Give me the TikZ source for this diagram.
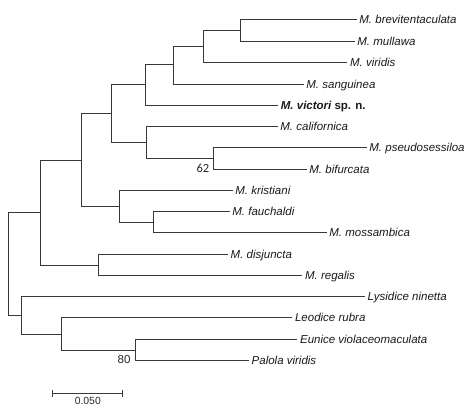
\documentclass[tikz,border=0pt]{standalone}
\usepackage{fontspec}
\setmainfont{Liberation Sans}
\newfontfamily\calfont{Carlito}
\begin{document}
\begin{tikzpicture}[x=1pt,y=-1pt,
  br/.style={draw=black!78, line width=1pt, line cap=rect},
  leaf/.style={anchor=west, inner xsep=3.2pt, inner ysep=0pt, text height=8.2pt, text depth=0pt,
    font=\fontsize{11.5}{13}\selectfont\itshape, text=black!90},
  boot/.style={anchor=east, inner sep=0pt, font=\fontsize{11.6}{13}\selectfont, text=black!85},
  scalelbl/.style={inner sep=0pt, font=\fontsize{10.4}{12}\selectfont, text=black!85}
]
\useasboundingbox (0,0) rectangle (474,412);
% internal nodes (x of vertical, y of attachment)
\coordinate (R) at (8.3,264);
\coordinate (K) at (40.7,212.7);
\coordinate (H) at (81.7,160);
\coordinate (E) at (111,113.3);
\coordinate (D) at (145,85);
\coordinate (C) at (173.3,65);
\coordinate (B) at (203.3,46.7);
\coordinate (A) at (240,31);
\coordinate (F) at (146.7,142.3);
\coordinate (G) at (213.3,158.3);
\coordinate (I) at (119.3,206);
\coordinate (J) at (153.3,222.3);
\coordinate (L) at (98.3,265);
\coordinate (M) at (21,315.7);
\coordinate (N) at (61,334.3);
\coordinate (O) at (135.7,350.3);
% leaves
\node[leaf] (brev) at (356,19.5) {M. brevitentaculata};
\node[leaf] (mull) at (354,41.7) {M. mullawa};
\node[leaf] (viri) at (346.7,62.3) {M. viridis};
\node[leaf] (sang) at (303,84.3) {M. sanguinea};
\node[leaf] (vict) at (277.5,105.7) {\bfseries M. victori\upshape\ sp. n.};
\node[leaf] (cali) at (277,126.7) {M. californica};
\node[leaf] (pseu) at (366,147.7) {M. pseudosessiloa};
\node[leaf] (bifu) at (306,169) {M. bifurcata};
\node[leaf] (kris) at (232,190.7) {M. kristiani};
\node[leaf] (fauc) at (229,211.7) {M. fauchaldi};
\node[leaf] (moss) at (326,232.7) {M. mossambica};
\node[leaf] (disj) at (227.3,254) {M. disjuncta};
\node[leaf] (rega) at (301.7,275.7) {M. regalis};
\node[leaf] (lysi) at (364.3,296.7) {Lysidice ninetta};
\node[leaf] (leod) at (291.7,317.7) {Leodice rubra};
\node[leaf] (euni) at (296.7,339.3) {Eunice violaceomaculata};
\node[leaf] (palo) at (248.3,360.7) {Palola viridis};
% branches
\draw[br] (R) |- (K);  \draw[br] (R) |- (M);
\draw[br] (K) |- (H);  \draw[br] (K) |- (L);
\draw[br] (H) |- (E);  \draw[br] (H) |- (I);
\draw[br] (E) |- (D);  \draw[br] (E) |- (F);
\draw[br] (D) |- (C);  \draw[br] (D) |- (vict.west);
\draw[br] (C) |- (B);  \draw[br] (C) |- (sang.west);
\draw[br] (B) |- (A);  \draw[br] (B) |- (viri.west);
\draw[br] (A) |- (brev.west); \draw[br] (A) |- (mull.west);
\draw[br] (F) |- (cali.west); \draw[br] (F) |- (G);
\draw[br] (G) |- (pseu.west); \draw[br] (G) |- (bifu.west);
\draw[br] (I) |- (kris.west); \draw[br] (I) |- (J);
\draw[br] (J) |- (fauc.west); \draw[br] (J) |- (moss.west);
\draw[br] (L) |- (disj.west); \draw[br] (L) |- (rega.west);
\draw[br] (M) |- (lysi.west); \draw[br] (M) |- (N);
\draw[br] (N) |- (leod.west); \draw[br] (N) |- (O);
\draw[br] (O) |- (euni.west); \draw[br] (O) |- (palo.west);
% bootstrap values
\node[boot, font=\calfont\fontsize{12.5}{14}\selectfont] (b62) at (209.5,168) {62};
\node[boot] (b80) at (130.7,360) {80};
% scale bar
\coordinate (s1) at (52.7,393.3);
\coordinate (s2) at (122,393.3);
\draw[br, line cap=butt] (s1) -- (s2);
\draw[br, line cap=butt] ([yshift=-3.5pt]s1) -- ([yshift=3.5pt]s1);
\draw[br, line cap=butt] ([yshift=-3.5pt]s2) -- ([yshift=3.5pt]s2);
\node[scalelbl] (slbl) at (87.8,401) {0.050};
\end{tikzpicture}
\end{document}
